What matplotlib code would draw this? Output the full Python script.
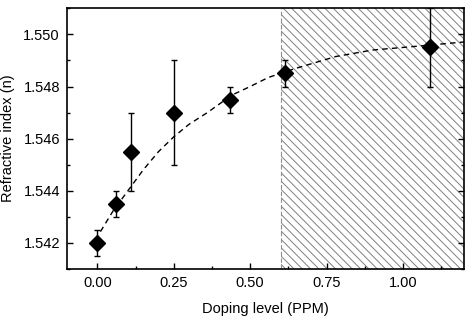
import matplotlib
matplotlib.use("Agg")
import matplotlib.pyplot as plt
from matplotlib.ticker import MultipleLocator, FormatStrFormatter

plt.rcParams['font.family'] = ['Liberation Sans', 'DejaVu Sans']
plt.rcParams['hatch.color'] = '#808080'
plt.rcParams['hatch.linewidth'] = 0.7

# measured points
doping = [0.0, 0.062, 0.11, 0.25, 0.434, 0.613, 1.088]
index_n = [1.5420, 1.5435, 1.5455, 1.5470, 1.5475, 1.5485, 1.5495]
err_lo = [0.0005, 0.0005, 0.0015, 0.0020, 0.0005, 0.0005, 0.0015]
err_hi = [0.0005, 0.0005, 0.0015, 0.0020, 0.0005, 0.0005, 0.0015]

# dashed fit curve
fit_x = [0.01, 0.05, 0.09, 0.15, 0.20, 0.25, 0.30, 0.36, 0.44, 0.50,
         0.56, 0.65, 0.78, 0.90, 1.02, 1.20]
fit_y = [1.54243, 1.54320, 1.54384, 1.54480, 1.54550, 1.54607, 1.54655,
         1.54700, 1.54767, 1.54800, 1.54835, 1.54870, 1.54915, 1.54940,
         1.54952, 1.54971]

shade_start = 0.6

fig = plt.figure(figsize=(4.74, 3.22), dpi=100)
ax = fig.add_axes([0.141, 0.165, 0.838, 0.809])

ax.axvspan(shade_start, 1.2, facecolor='none', edgecolor='#808080',
           hatch='\\\\\\\\', linewidth=0, zorder=0)
ax.axvline(shade_start, color='#909090', linestyle=(0, (4, 2)), linewidth=0.8, zorder=1)

ax.plot(fit_x, fit_y, color='black', linestyle=(0, (4, 3)), linewidth=1.0, zorder=2)
ax.errorbar(doping, index_n, yerr=[err_lo, err_hi], fmt='D', color='black',
            markersize=8.5, ecolor='black', elinewidth=1.0, capsize=2.5,
            capthick=1.0, zorder=3)

ax.set_xlim(-0.1, 1.2)
ax.set_ylim(1.541, 1.551)
ax.xaxis.set_major_locator(MultipleLocator(0.25))
ax.xaxis.set_minor_locator(MultipleLocator(0.125))
ax.yaxis.set_major_locator(MultipleLocator(0.002))
ax.yaxis.set_minor_locator(MultipleLocator(0.001))
ax.xaxis.set_major_formatter(FormatStrFormatter('%.2f'))
ax.yaxis.set_major_formatter(FormatStrFormatter('%.3f'))

ax.tick_params(axis='both', which='both', direction='in', right=True, top=False,
               labelsize=10.5, width=1.0)
ax.tick_params(which='major', length=4, pad=5)
ax.tick_params(which='minor', length=2)
for s in ax.spines.values():
    s.set_linewidth(1.2)

ax.set_xlabel('Doping level (PPM)', fontsize=10.5, labelpad=9)
ax.set_ylabel('Refractive index (n)', fontsize=10.5, labelpad=6)

fig.savefig('out.png', dpi=100)
